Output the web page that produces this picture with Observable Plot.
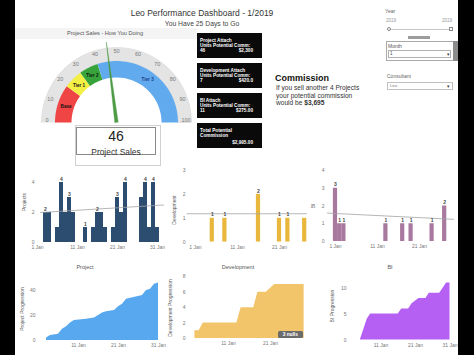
<!DOCTYPE html>
<html><head><meta charset="utf-8">
<script src="https://cdn.jsdelivr.net/npm/d3@7"></script>
<script src="https://cdn.jsdelivr.net/npm/@observablehq/plot@0.6"></script>
<style>
html,body{margin:0;padding:0}
body{width:474px;height:355px;overflow:hidden;background:#fff;position:relative;font-family:"Liberation Sans",Arial,sans-serif}
.t{position:absolute;white-space:nowrap;line-height:1}
.box{position:absolute;background:#0a0a0a;color:#fff;font-weight:bold;font-size:4.7px;line-height:5.2px;padding:4.6px 9px 0 3px;box-sizing:border-box;white-space:nowrap}
.row{display:flex;justify-content:space-between}
svg{position:absolute}
</style></head><body>
<script>
// ---------------- data ----------------
const dashboardTitle = "Leo Performance Dashboard - 1/2019";
const dashboardSubtitle = "You Have 25 Days to Go";
const gaugeTitle = "Project Sales - How You Doing";
const gaugeTiers = ["Base", "Tier 1", "Tier 2", "Tier 3"];
const gaugeTierFrom = [0, 20, 30, 40];
const gaugeTierTo = [20, 30, 40, 100];
const gaugeTierColors = ["#ef4545", "#f3ef45", "#36a43a", "#62aaee"];
const gaugeTierTextColors = ["#111", "#111", "#111", "#1c3d8c"];
const gaugeTickValues = [0, 10, 20, 30, 40, 50, 60, 70, 80, 90, 100];
const projectSales = 46;
const projectSalesLabel = "Project Sales";

const attachTitles = ["Project Attach", "Development Attach", "BI Attach"];
const attachUnits = [46, 7, 11];
const attachCommission = ["$2,300", "$420.0", "$275.00"];
const totalCommission = "$2,995.00";
const projectsToSell = 4;
const potentialCommission = "$3,695";

const monthTicks = [1, 11, 21, 31];
const monthName = "Jan";

const projectDays   = [3, 4, 6, 7, 8, 9, 10, 13, 15, 16, 17, 18, 20, 21, 22, 23, 27, 28, 29, 30, 31];
const projectValues = [2, 2, 1, 4, 2, 3, 2, 1, 1, 2, 2, 1, 1, 3, 2, 4, 3, 4, 1, 4, 1];
const projectLabelDays = [3, 7, 9, 13, 16, 21, 23, 28, 30];
const projectTrendDays = [1.75, 32.5];
const projectTrendValues = [2.0, 2.5];

const devDays   = [5, 8, 16, 21, 23, 27];
const devValues = [1, 1, 2, 1, 1, 1];
const devLabelDays = [5, 8, 16, 21, 23];
const devTrendDays = [-1, 27.4];
const devTrendValues = [1.19, 1.19];

const biDays   = [1, 2, 3, 13, 17, 19, 24, 27];
const biValues = [3, 1, 1, 1, 1, 1, 1, 2];
const biLabelDays = [1, 2, 3, 13, 17, 19, 24, 27];
const biTrendDays = [-0.9, 29.1];
const biTrendValues = [1.6, 1.25];

const projectProgDays   = [3, 4, 6, 7, 8, 9, 10, 13, 15, 16, 17, 18, 20, 21, 22, 23, 27, 28, 29, 30, 31];
const projectProgValues = [2, 4, 5, 9, 11, 14, 16, 17, 18, 20, 22, 23, 24, 27, 29, 33, 36, 40, 41, 45, 46];
const devProgDays   = [3, 4, 5, 13, 14, 17, 18, 20, 22, 29];
const devProgValues = [1, 1, 2, 2, 4, 4, 6, 6, 7, 7];
const biProgDays   = [3, 5, 6, 7, 8, 16, 17, 19, 20, 22, 24, 25, 28, 29, 30, 31];
const biProgValues = [0, 0, 2, 4, 5, 5, 6, 6, 7, 8, 8, 9, 9, 10, 11, 11];
const nullsNote = "3 nulls";

const yearLabel = "Year", yearFrom = "2019", yearTo = "2019";
const monthLabel = "Month", monthValue = "1";
const consultantLabel = "Consultant", consultantValue = "Leo";

// ---------------- helpers ----------------
const FONT = '"Liberation Sans", Arial, sans-serif';
function txt(s, x, y, o = {}) {
  const e = document.createElement("div");
  e.className = "t";
  if (o.html) e.innerHTML = s; else e.textContent = s;
  const ax = o.anchor === "start" ? "0" : o.anchor === "end" ? "-100%" : "-50%";
  e.style.left = x + "px"; e.style.top = y + "px";
  e.style.fontSize = (o.size || 5) + "px";
  e.style.color = o.color || "#555";
  if (o.weight) e.style.fontWeight = o.weight;
  e.style.transform = `translate(${ax},-50%)` + (o.rotate ? " rotate(-90deg)" : "");
  document.body.appendChild(e);
  return e;
}
function rect(x, y, w, h, style) {
  const e = document.createElement("div");
  e.style.position = "absolute";
  e.style.left = x + "px"; e.style.top = y + "px";
  e.style.width = w + "px"; e.style.height = h + "px";
  e.style.boxSizing = "border-box";
  Object.assign(e.style, style);
  document.body.appendChild(e);
  return e;
}
function place(svg, left, top) {
  svg.style.position = "absolute";
  svg.style.left = left + "px";
  svg.style.top = top + "px";
  document.body.appendChild(svg);
}
const baseStyle = {fontFamily: FONT, fontSize: "5px", color: "#777", background: "transparent", overflow: "visible"};
const dayFmt = d => `${d} ${monthName}`;
const intFmt = d => String(d);

// ---------------- header ----------------
txt(dashboardTitle, 202, 13, {size: 8.5, color: "#333"});
txt(dashboardSubtitle, 202, 24, {size: 6.8, color: "#444"});
rect(15, 28, 182, 11, {background: "#f4f4f4"});
txt(gaugeTitle, 105, 34, {size: 5.6, color: "#555"});

// ---------------- gauge ----------------
const ang = v => Math.PI * (1 - v / 100);
const polar = (v, r) => ({x: r * Math.cos(ang(v)), y: r * Math.sin(ang(v))});
function annulus(v0, v1, r0, r1) {
  const n = 48, pts = [];
  for (let i = 0; i <= n; i++) pts.push(polar(v0 + (v1 - v0) * i / n, r1));
  for (let i = n; i >= 0; i--) pts.push(polar(v0 + (v1 - v0) * i / n, r0));
  return pts;
}
const a46 = ang(projectSales);
const needle = [
  {x: -Math.sin(a46) * 1.7, y: Math.cos(a46) * 1.7},
  polar(projectSales, 81),
  {x: Math.sin(a46) * 1.7, y: -Math.cos(a46) * 1.7}
];
const gaugeMarks = [
  Plot.line(annulus(0, 100, 61.5, 75), {x: "x", y: "y", fill: "#e4e4e4", stroke: "#d2d2d2", strokeWidth: 0.5}),
  ...gaugeTiers.map((t, i) => Plot.line(annulus(gaugeTierFrom[i], gaugeTierTo[i], 45, 61.5), {x: "x", y: "y", fill: gaugeTierColors[i], stroke: "none"})),
  Plot.text(gaugeTickValues.map(v => ({...polar(v, 69.5), v})), {x: "x", y: "y", text: "v", fill: "#7a7a7a", fontSize: 5.5, dy: -2}),
  Plot.text(gaugeTiers.map((t, i) => ({...polar((gaugeTierFrom[i] + gaugeTierTo[i]) / 2, 53), t, c: gaugeTierTextColors[i]})), {x: "x", y: "y", text: "t", fill: d => d.c, fontSize: 4.6, fontWeight: "bold"}),
  Plot.line(needle, {x: "x", y: "y", fill: "#4c9a43", stroke: "#4c9a43", strokeWidth: 0.4})
];
place(Plot.plot({
  width: 160, height: 92, margin: 0,
  x: {domain: [-80, 80], axis: null}, y: {domain: [-6, 86], axis: null},
  color: {type: "identity"},
  style: baseStyle, marks: gaugeMarks
}), 36, 36);

rect(75, 125, 86, 41, {border: "1px solid #d0d0d0"});
rect(76, 127, 80, 28, {border: "1px solid #8a8a8a", background: "#fff"});
txt(String(projectSales), 116, 136, {size: 14, color: "#222"});
txt(projectSalesLabel, 116, 151.5, {size: 8.4, color: "#333"});

// ---------------- attach boxes ----------------
const boxTops = [33, 63, 93];
attachTitles.forEach((t, i) => {
  const b = rect(197, boxTops[i], 65, 25, {});
  b.className = "box";
  b.innerHTML = `<div>${t}</div><div>Units Potential Comm:</div><div class="row"><span>${attachUnits[i]}</span><span>${attachCommission[i]}</span></div>`;
});
const tb = rect(197, 123, 65, 25, {});
tb.className = "box";
tb.innerHTML = `<div>Total Potential</div><div>Commission</div><div class="row" style="margin-top:1.5px"><span></span><span>${totalCommission}</span></div>`;

txt("Commission", 275, 78, {size: 9, color: "#111", weight: "bold", anchor: "start"});
const cp = document.createElement("div");
cp.className = "t";
Object.assign(cp.style, {left: "276px", top: "84px", fontSize: "6.6px", lineHeight: "7.6px", color: "#333"});
cp.innerHTML = `If you sell another ${projectsToSell} Projects<br>your potential commission<br>would be <b>${potentialCommission}</b>`;
document.body.appendChild(cp);

// ---------------- filters ----------------
txt(yearLabel, 385, 10.5, {size: 5, color: "#666", anchor: "start"});
txt(yearFrom, 386, 20.5, {size: 4.5, color: "#999", anchor: "start"});
txt(yearTo, 452, 20.5, {size: 4.5, color: "#999", anchor: "end"});
rect(390, 28.5, 60, 1, {background: "#c8c8c8"});
rect(386.5, 26.5, 4, 4, {border: "0.7px solid #888", borderRadius: "50%", background: "#fff"});
rect(448.5, 26.5, 4, 4, {border: "0.7px solid #888", background: "#fff"});
rect(408, 36, 22, 2.5, {background: "#9c9c9c"});
rect(386, 40.5, 68, 20, {border: "0.8px solid #aaa"});
rect(453, 40.5, 5, 20, {background: "#8c8c8c"});
txt(monthLabel, 388, 45.5, {size: 5, color: "#555", anchor: "start"});
rect(388, 50, 63, 8, {border: "0.7px solid #b0b0b0", background: "#fff"});
txt(monthValue, 390, 54, {size: 4.5, color: "#444", anchor: "start"});
txt("▾", 448, 54, {size: 5, color: "#444"});
txt(consultantLabel, 387, 76, {size: 5, color: "#666", anchor: "start"});
rect(387, 82, 66, 8, {border: "0.7px solid #c0c0c0", background: "#fff"});
txt(consultantValue, 390, 86, {size: 4.2, color: "#777", anchor: "start"});
txt("▾", 448, 86, {size: 5, color: "#444"});

// ---------------- bar charts ----------------
function barChart(o) {
  const data = o.days.map((d, i) => ({day: d, value: o.values[i]}));
  const trend = o.trendDays.map((d, i) => ({day: d, value: o.trendValues[i]}));
  return Plot.plot({
    width: o.width, height: o.height,
    marginLeft: o.ml, marginRight: o.mr, marginTop: o.mt, marginBottom: o.mb,
    x: {domain: o.xDomain, ticks: o.xTicks, tickFormat: dayFmt, tickSize: 0, tickPadding: 3, label: null},
    y: {domain: o.yDomain, ticks: o.yTicks, tickFormat: intFmt, tickSize: 0, tickPadding: 2, label: null},
    style: baseStyle,
    marks: [
      Plot.rectY(data, {x1: d => d.day - 0.5, x2: d => d.day + 0.5, y: "value", fill: o.color, clip: true}),
      Plot.line(trend, {x: "day", y: "value", stroke: "#a3a3a3", strokeWidth: 0.8}),
      Plot.text(data.filter(d => o.labelDays.includes(d.day)), {x: "day", y: "value", text: d => String(d.value), dy: -3.5, fill: "#444", fontSize: 5, fontWeight: "bold"})
    ]
  });
}
place(barChart({days: projectDays, values: projectValues, labelDays: projectLabelDays,
  trendDays: projectTrendDays, trendValues: projectTrendValues, color: "#2c4c70",
  width: 152, height: 87, ml: 21, mr: 3, mt: 14, mb: 13,
  xDomain: [0.75, 32.75], xTicks: monthTicks, yDomain: [0, 4], yTicks: [0, 2, 4]}), 15, 168);
place(barChart({days: devDays, values: devValues, labelDays: devLabelDays,
  trendDays: devTrendDays, trendValues: devTrendValues, color: "#e8b73c",
  width: 137, height: 95, ml: 17, mr: 0, mt: 10, mb: 13.3,
  xDomain: [-0.9, 27.67], xTicks: [1, 11, 21], yDomain: [0, 3], yTicks: [0, 1, 2, 3]}), 170, 160);
place(barChart({days: biDays, values: biValues, labelDays: biLabelDays,
  trendDays: biTrendDays, trendValues: biTrendValues, color: "#a8789e",
  width: 153, height: 95, ml: 21, mr: 0, mt: 10, mb: 14,
  xDomain: [-1.14, 30.29], xTicks: [1, 11, 21], yDomain: [0, 4], yTicks: [0, 1, 2, 3, 4]}), 305, 160);

txt("Projects", 24, 202, {size: 5, color: "#555", rotate: true});
txt("Development", 174, 210, {size: 5, color: "#555", rotate: true});
txt("BI", 313, 206, {size: 5, color: "#555", rotate: true});

// ---------------- progression charts ----------------
function progChart(o) {
  const data = o.days.map((d, i) => ({day: d, value: o.values[i]}));
  return Plot.plot({
    width: o.width, height: o.height,
    marginLeft: o.ml, marginRight: o.mr, marginTop: o.mt, marginBottom: o.mb,
    x: {domain: o.xDomain, ticks: o.xTicks, tickFormat: dayFmt, tickSize: 0, tickPadding: 3, label: null},
    y: {domain: o.yDomain, ticks: o.yTicks, tickFormat: intFmt, tickSize: 0, tickPadding: 2, label: null},
    style: baseStyle,
    marks: [Plot.areaY(data, {x: "day", y: "value", fill: o.color})]
  });
}
place(progChart({days: projectProgDays, values: projectProgValues, color: "#57a8ef",
  width: 150, height: 93, ml: 22, mr: 3, mt: 18, mb: 15,
  xDomain: [0.75, 32], xTicks: [11, 21, 31], yDomain: [0, 48], yTicks: [0, 20, 40]}), 15, 262);
place(progChart({days: devProgDays, values: devProgValues, color: "#f3c56b",
  width: 142, height: 93, ml: 22, mr: 0, mt: 12, mb: 17,
  xDomain: [1.24, 29.8], xTicks: [11, 21], yDomain: [0, 8.3], yTicks: [0, 2, 4, 6, 8]}), 165, 262);
place(progChart({days: biProgDays, values: biProgValues, color: "#b560f3",
  width: 138, height: 93, ml: 28, mr: 0, mt: 15.3, mb: 15.5,
  xDomain: [1.58, 33.46], xTicks: [11, 21, 31], yDomain: [0, 12], yTicks: [0, 5, 10]}), 320, 262);

txt("Project", 85, 268, {size: 5.5, color: "#555"});
txt("Development", 238, 268, {size: 5.5, color: "#555"});
txt("BI", 390, 268, {size: 5.5, color: "#555"});
txt("Project Progression", 22, 309, {size: 5, color: "#555", rotate: true});
txt("Development Progression", 170, 308, {size: 5, color: "#555", rotate: true});
txt("BI Progression", 332, 306, {size: 5, color: "#555", rotate: true});

const nb = rect(278, 330.5, 24.5, 7, {background: "#6b6b6b", borderRadius: "1.5px", color: "#fff", fontSize: "4.8px", fontWeight: "bold", textAlign: "center", lineHeight: "7px", fontFamily: FONT});
nb.textContent = nullsNote;

// ---------------- letterbox ----------------
rect(0, 0, 15, 355, {background: "#000"});
rect(458, 0, 16, 355, {background: "#000"});
</script>
</body></html>
